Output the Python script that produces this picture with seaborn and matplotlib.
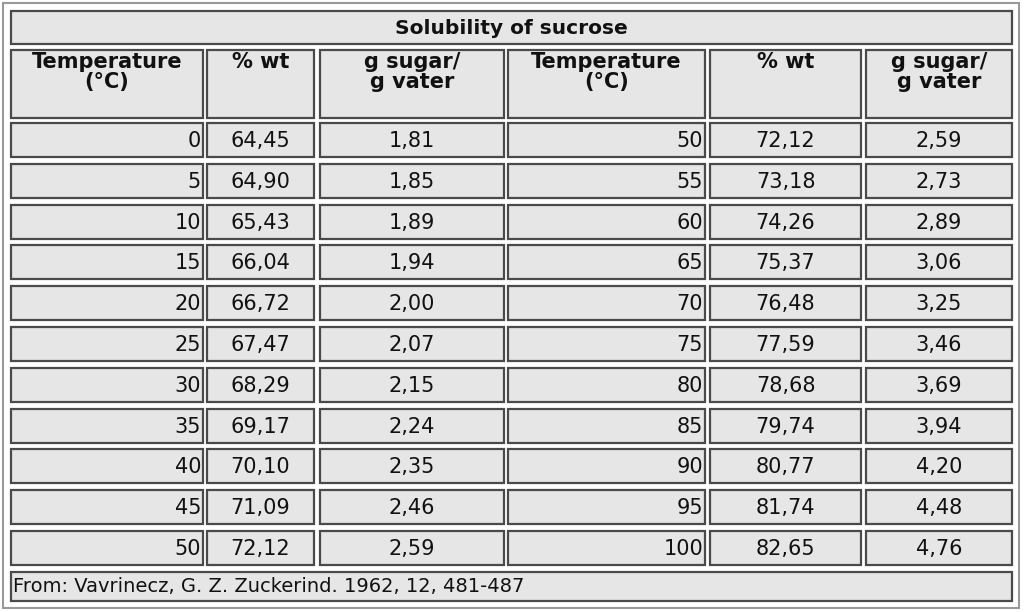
import matplotlib
matplotlib.use("Agg")
import matplotlib.pyplot as plt
import seaborn as sns
from matplotlib.patches import Rectangle

sns.set_style("white")
plt.rcParams['font.family'] = ['DejaVu Sans']

title = "Solubility of sucrose"
headers = ["Temperature\n(°C)", "% wt", "g sugar/\ng vater", "Temperature\n(°C)", "% wt", "g sugar/\ng vater"]
temp_left = ["0", "5", "10", "15", "20", "25", "30", "35", "40", "45", "50"]
wt_left = ["64,45", "64,90", "65,43", "66,04", "66,72", "67,47", "68,29", "69,17", "70,10", "71,09", "72,12"]
ratio_left = ["1,81", "1,85", "1,89", "1,94", "2,00", "2,07", "2,15", "2,24", "2,35", "2,46", "2,59"]
temp_right = ["50", "55", "60", "65", "70", "75", "80", "85", "90", "95", "100"]
wt_right = ["72,12", "73,18", "74,26", "75,37", "76,48", "77,59", "78,68", "79,74", "80,77", "81,74", "82,65"]
ratio_right = ["2,59", "2,73", "2,89", "3,06", "3,25", "3,46", "3,69", "3,94", "4,20", "4,48", "4,76"]
source = "From: Vavrinecz, G. Z. Zuckerind. 1962, 12, 481-487"

fig = plt.figure(figsize=(10.24, 6.12), dpi=100)
ax = fig.add_axes([0, 0, 1, 1])
ax.set_xlim(0, 1024)
ax.set_ylim(612, 0)
ax.axis("off")

fill = "#e6e6e6"
edge = "#4a4a4a"

def cell(x0, y0, x1, y1):
    ax.add_patch(Rectangle((x0, y0), x1 - x0, y1 - y0, facecolor=fill, edgecolor=edge, lw=1.6))

ax.add_patch(Rectangle((3, 3), 1016, 605, facecolor="white", edgecolor="#999999", lw=1.5))

cols = [(11, 203), (207, 314), (320, 504), (508, 705), (710, 861), (866, 1012)]

cell(11, 11, 1012, 44)
ax.text(511, 28, title, ha="center", va="center", fontsize=14.5, fontweight="bold", color="#111111")

for (x0, x1), h in zip(cols, headers):
    cell(x0, 50, x1, 118)
    ax.text((x0 + x1) / 2, 52, h, ha="center", va="top", fontsize=15,
            fontweight="bold", color="#111111", linespacing=1.0)

columns = [temp_left, wt_left, ratio_left, temp_right, wt_right, ratio_right]
aligns = ["right", "center", "center", "right", "center", "center"]
for i in range(len(temp_left)):
    y0 = 123 + i * 40.8
    y1 = y0 + 34
    for (x0, x1), data, al in zip(cols, columns, aligns):
        cell(x0, y0, x1, y1)
        xt = x1 - 2 if al == "right" else (x0 + x1) / 2
        ax.text(xt, (y0 + y1) / 2 + 1, data[i], ha=al, va="center", fontsize=15, color="#111111")

cell(11, 572, 1012, 601)
ax.text(13, 587, source, ha="left", va="center", fontsize=14, color="#111111")

fig.savefig("out.png", dpi=100)
